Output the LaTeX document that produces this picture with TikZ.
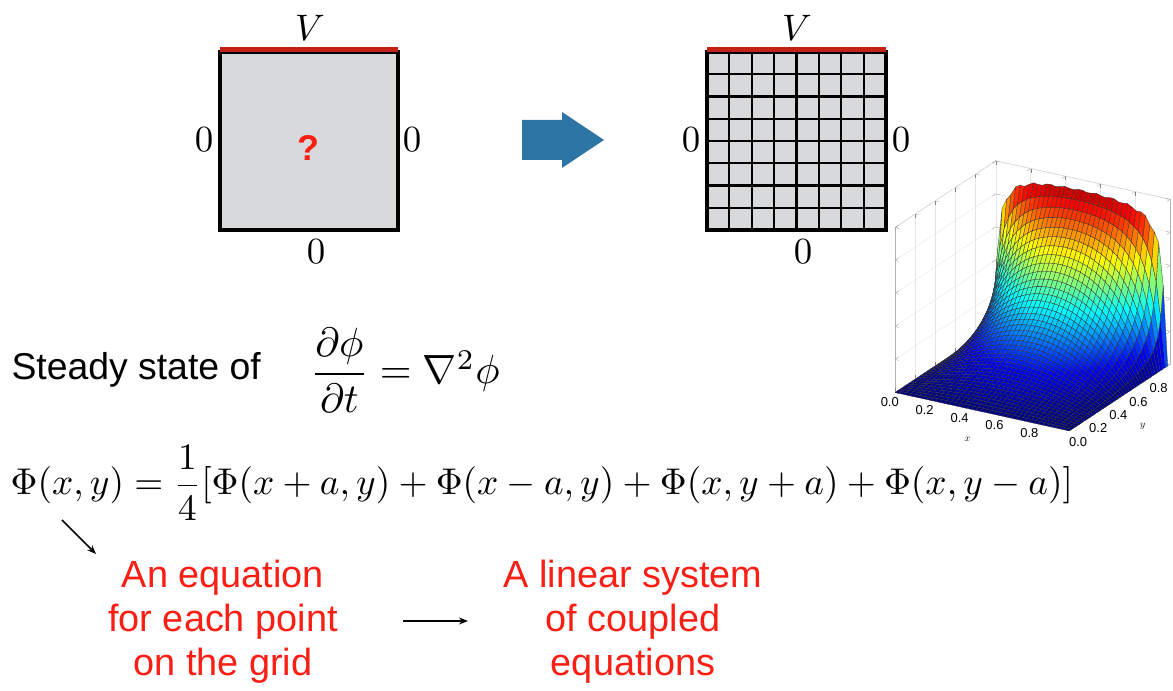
\documentclass[tikz,border=0pt]{standalone}
\usepackage{amsmath}
\usepackage{fontspec}
\setsansfont{Liberation Sans}
\usepackage{pgfplots}
\pgfplotsset{compat=1.18}
\definecolor{redbar}{RGB}{196,32,20}
\definecolor{boxgray}{RGB}{216,217,219}
\definecolor{arrowblue}{RGB}{44,117,164}
\definecolor{txtred}{RGB}{250,30,20}
\pgfplotsset{colormap={myjet}{rgb255=(0,0,128) rgb255=(0,0,255) rgb255=(0,128,255) rgb255=(0,255,255) rgb255=(128,255,128) rgb255=(255,255,0) rgb255=(255,128,0) rgb255=(255,0,0) rgb255=(128,0,0)}}
\tikzset{
  sq/.style={fill=boxgray,draw=black,line width=4bp},
  bar/.style={draw=redbar,line width=5bp},
  lab/.style={scale=3.7},
  redtxt/.style={text=txtred,font=\sffamily\fontsize{38}{44}\selectfont,align=center},
  conn/.style={-{Stealth[length=9bp,width=7bp]},line width=1.6bp}
}
\usetikzlibrary{arrows.meta}
\begin{document}
\begin{tikzpicture}
% 3D plot
\begin{axis}[at={(895bp,260bp)},anchor=south west,width=320bp,height=315bp,
  view={30}{25},domain=0:1,y domain=0:0.975,samples=40,
  colormap name=myjet,shader=faceted,faceted color=black!80,
  point meta min=0,point meta max=1,
  xmin=0,xmax=1,ymin=0,ymax=1,zmin=0,zmax=1,
  xtick={0,0.2,0.4,0.6,0.8},ytick={0,0.2,0.4,0.6,0.8},ztick={0,0.2,0.4,0.6,0.8,1},
  xticklabels={0.0,0.2,0.4,0.6,0.8},yticklabels={0.0,0.2,0.4,0.6,0.8},
  zticklabels={0.0,0.2,0.4,0.6,0.8,1.0},zticklabel pos=right,
  tick label style={font=\sffamily\fontsize{13}{13}\selectfont},
  xlabel={$x$},ylabel={$y$},
  grid=major,grid style={black!10},axis line style={black!30},
  z buffer=sort]
\addplot3[surf,line width=0.3pt] {min(1,
 4/pi*( sin(deg(pi*x))*(exp(pi*(y-1))-exp(-pi*(y+1)))
 + sin(deg(3*pi*x))*(exp(3*pi*(y-1))-exp(-3*pi*(y+1)))/3
 + sin(deg(5*pi*x))*(exp(5*pi*(y-1))-exp(-5*pi*(y+1)))/5
 + sin(deg(7*pi*x))*(exp(7*pi*(y-1))-exp(-7*pi*(y+1)))/7
 + sin(deg(9*pi*x))*(exp(9*pi*(y-1))-exp(-9*pi*(y+1)))/9
 + sin(deg(11*pi*x))*(exp(11*pi*(y-1))-exp(-11*pi*(y+1)))/11
 + sin(deg(13*pi*x))*(exp(13*pi*(y-1)))/13
 + sin(deg(15*pi*x))*(exp(15*pi*(y-1)))/15
 + sin(deg(17*pi*x))*(exp(17*pi*(y-1)))/17
 + sin(deg(19*pi*x))*(exp(19*pi*(y-1)))/19
 + sin(deg(21*pi*x))*(exp(21*pi*(y-1)))/21))};
\end{axis}
\pgfresetboundingbox
\begin{scope}[x=1bp,y=1bp]
\useasboundingbox (0,0) rectangle (1173,691);
% left square
\filldraw[sq] (220,461) rectangle (398,639);
\draw[bar] (220,641) -- (398,641);
\node[lab] (v1) at (310,663) {$V$};
\node[lab] (l1) at (204,551) {$0$};
\node[lab] (r1) at (412,551) {$0$};
\node[lab] (b1) at (316,439) {$0$};
\node[text=txtred,font=\sffamily\bfseries\fontsize{36}{36}\selectfont] (q) at (308,543) {?};
% arrow
\fill[arrowblue] (522,571) -- (562,571) -- (562,579) -- (604,551) -- (562,523) -- (562,531) -- (522,531) -- cycle;
% right square
\fill[boxgray] (707,461) rectangle (886,639);
\foreach \i in {1,...,7} {
  \draw[line width=2.2bp] (707+\i*22.375,461) -- (707+\i*22.375,639);
  \draw[line width=2.2bp] (707,461+\i*22.25) -- (886,461+\i*22.25);
}
\draw[line width=4bp] (707,461) rectangle (886,639);
\draw[bar] (707,641) -- (886,641);
\node[lab] (v2) at (797,663) {$V$};
\node[lab] (l2) at (691,551) {$0$};
\node[lab] (r2) at (901,551) {$0$};
\node[lab] (b2) at (803,439) {$0$};
% equations
\node[anchor=west,font=\sffamily\fontsize{37.5}{37.5}\selectfont] (ss) at (8,321) {Steady state of};
\node[scale=4.1] (pde) at (405,321) {$\dfrac{\partial\phi}{\partial t}=\nabla^2\phi$};
\node[anchor=west,scale=3.74,inner sep=0pt] (eq) at (10,208)
 {$\Phi(x,y)=\dfrac{1}{4}[\Phi(x+a,y)+\Phi(x-a,y)+\Phi(x,y+a)+\Phi(x,y-a)]$};
\coordinate (d1) at (62,171);
\coordinate (d2) at (96,137);
\draw[conn] (d1) -- (d2);
\node[redtxt] (t1) at (223,69) {An equation\\for each point\\on the grid};
\node[redtxt] (t2) at (633,69) {A linear system\\of coupled\\equations};
\coordinate (h1) at (403,70);
\coordinate (h2) at (468,70);
\draw[conn] (h1) -- (h2);
\end{scope}
\end{tikzpicture}
\end{document}
